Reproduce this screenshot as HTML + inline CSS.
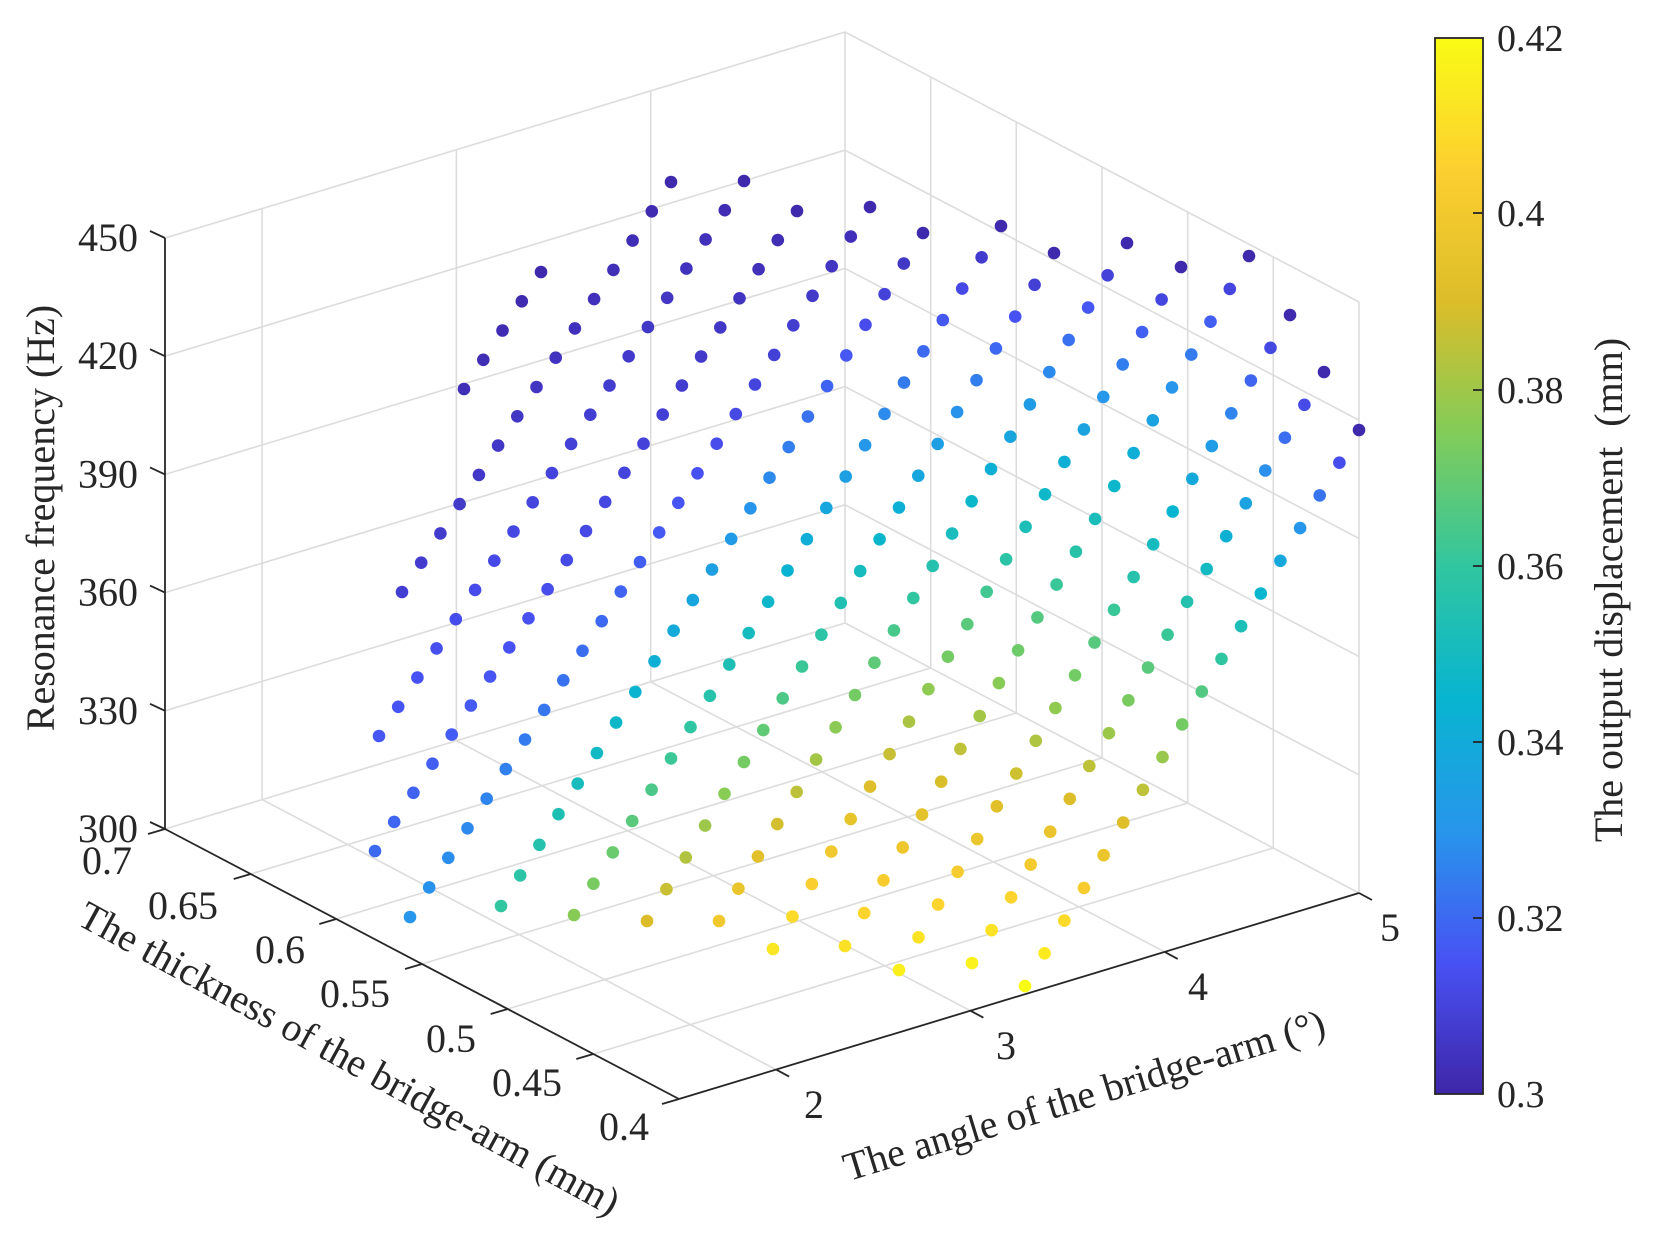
<!DOCTYPE html>
<html><head><meta charset="utf-8"><style>
html,body{margin:0;padding:0;background:#fff;}
svg{display:block;}
text{font-family:"Liberation Serif","Times New Roman",serif;fill:#262626;}
</style></head><body>
<svg id="s" width="1656" height="1238" viewBox="0 0 1656 1238" xmlns="http://www.w3.org/2000/svg">
<defs>
<linearGradient id="cb" x1="0" y1="1" x2="0" y2="0">
<stop offset="0" stop-color="rgb(62,38,168)"/>
<stop offset="0.125" stop-color="rgb(72,82,244)"/>
<stop offset="0.25" stop-color="rgb(39,150,235)"/>
<stop offset="0.375" stop-color="rgb(8,181,208)"/>
<stop offset="0.5" stop-color="rgb(49,198,159)"/>
<stop offset="0.625" stop-color="rgb(129,204,89)"/>
<stop offset="0.75" stop-color="rgb(220,189,41)"/>
<stop offset="0.875" stop-color="rgb(252,207,48)"/>
<stop offset="1" stop-color="rgb(249,251,21)"/>
</linearGradient>
</defs>
<g id="grid" stroke="#dcdcdc" stroke-width="1.6" fill="none"></g>
<g id="axes" stroke="#262626" stroke-width="1.8" fill="none"></g>
<g id="pts"></g>
<g id="labels" font-size="40"></g>
<rect x="1435" y="38" width="48" height="1056" fill="url(#cb)" stroke="#262626" stroke-width="1.8"/>
<g stroke="#262626" stroke-width="1.8">
<line x1="1473" y1="213" x2="1483" y2="213"/><line x1="1473" y1="390" x2="1483" y2="390"/>
<line x1="1473" y1="566" x2="1483" y2="566"/><line x1="1473" y1="742" x2="1483" y2="742"/>
<line x1="1473" y1="918" x2="1483" y2="918"/>
</g>
<g font-size="38">
<text x="1497" y="51">0.42</text>
<text x="1497" y="226">0.4</text>
<text x="1497" y="403">0.38</text>
<text x="1497" y="579">0.36</text>
<text x="1497" y="755">0.34</text>
<text x="1497" y="931">0.32</text>
<text x="1497" y="1107">0.3</text>
</g>
<text font-size="40" transform="translate(1622,590) rotate(-90)" text-anchor="middle">The output displacement &#160;(mm)</text>
<text font-size="40" transform="translate(54,518) rotate(-90)" text-anchor="middle">Resonance frequency (Hz)</text>
<text font-size="40" transform="translate(343,1070) rotate(28.7)" text-anchor="middle">The thickness of the bridge-arm (mm)</text>
<text font-size="40" transform="translate(1088,1108) rotate(-17)" text-anchor="middle">The angle of the bridge-arm (°)</text>
</svg>
<script>
(function(){
var NS="http://www.w3.org/2000/svg";
function el(p,n,a){var e=document.createElementNS(NS,n);for(var k in a)e.setAttribute(k,a[k]);p.appendChild(e);return e;}
var F=[679,1099],R=[1359,893],L=[165,829],B=[L[0]+R[0]-F[0],L[1]+R[1]-F[1]],K=3.94;
function up(p,z){return [p[0],p[1]-(z-300)*K];}
function lerp(a,b,s){return [a[0]+(b[0]-a[0])*s,a[1]+(b[1]-a[1])*s];}
var g=document.getElementById('grid'),ax=document.getElementById('axes');
function ln(p,a,b){el(p,'line',{x1:a[0].toFixed(1),y1:a[1].toFixed(1),x2:b[0].toFixed(1),y2:b[1].toFixed(1)});}
var zs=[330,360,390,420,450];
zs.forEach(function(z){ln(g,up(L,z),up(B,z));ln(g,up(B,z),up(R,z));});
[2,3,4].forEach(function(a){var s=(a-1.5)/3.5;var p=lerp(L,B,s);ln(g,p,up(p,450));var q=lerp(F,R,s);ln(g,q,p);});
[0.45,0.5,0.55,0.6,0.65].forEach(function(t){var s=(t-0.4)/0.3;var p=lerp(R,B,s);ln(g,p,up(p,450));var q=lerp(F,L,s);ln(g,q,p);});
ln(g,B,up(B,450));ln(g,R,up(R,450));ln(g,L,B);ln(g,B,R);
ln(ax,L,up(L,450));ln(ax,L,F);ln(ax,F,R);
var lab=document.getElementById('labels');
[300,330,360,390,420,450].forEach(function(z){var p=up(L,z);ln(ax,p,[p[0]-15,p[1]-7]);
 var t=el(lab,'text',{x:138,y:(p[1]+13).toFixed(1),'text-anchor':'end'});t.textContent=z;});
var tl=[[107,861,'0.7'],[183,906,'0.65'],[280,950,'0.6'],[355,994,'0.55'],[451,1039,'0.5'],[527,1083,'0.45'],[624,1127,'0.4']];
for(var k=0;k<=6;k++){var p=lerp(L,F,k/6);ln(ax,p,[p[0]-17,p[1]+5]);}
tl.forEach(function(d){var t=el(lab,'text',{x:d[0],y:d[1]+13,'text-anchor':'middle'});t.textContent=d[2];});
[2,3,4,5].forEach(function(a){var p=lerp(F,R,(a-1.5)/3.5);ln(ax,p,[p[0]+13,p[1]+7]);});
[[814,1105,'2'],[1006,1046,'3'],[1198,987,'4'],[1390,928,'5']].forEach(function(d){var t=el(lab,'text',{x:d[0],y:d[1]+13,'text-anchor':'middle'});t.textContent=d[2];});
var cm=[[62,38,168],[72,82,244],[39,150,235],[8,181,208],[49,198,159],[129,204,89],[220,189,41],[252,207,48],[249,251,21]];
function col(d){var v=(d-0.3)/0.12;v=Math.max(0,Math.min(1,v))*8;var i=Math.min(7,Math.floor(v)),f=v-i;var a=cm[i],b=cm[i+1];
 return 'rgb('+Math.round(a[0]+(b[0]-a[0])*f)+','+Math.round(a[1]+(b[1]-a[1])*f)+','+Math.round(a[2]+(b[2]-a[2])*f)+')';}
var C=[
[[464,389],[541,272],5,0.303],
[[402,592],[671,182],15,0.308],
[[379,736],[744,181],20,0.316],
[[375,851],[797,211],23,0.320],
[[410,917],[870,207],25,0.330],
[[501,906],[923,233],23,0.360],
[[574,915],[1001,226],23,0.376],
[[647,921],[1054,253],22,0.390],
[[719,921],[1127,243],22,0.400],
[[773,949],[1181,267],22,0.413],
[[845,946],[1249,256],22,0.411],
[[899,970],[1290,315],21,0.416],
[[972,963],[1324,372],19,0.417],
[[1025,986],[1359,430],18,0.42]];
var pg=document.getElementById('pts');
C.forEach(function(c){var n=c[2];for(var m=0;m<n;m++){var s=n>1?m/(n-1):0;var p=lerp(c[0],c[1],s);
 var d=0.301+(c[3]-0.301)*Math.pow(1-s,0.8);
 el(pg,'circle',{cx:p[0].toFixed(1),cy:p[1].toFixed(1),r:6.3,fill:col(d)});}});
})();
</script>
</body></html>
